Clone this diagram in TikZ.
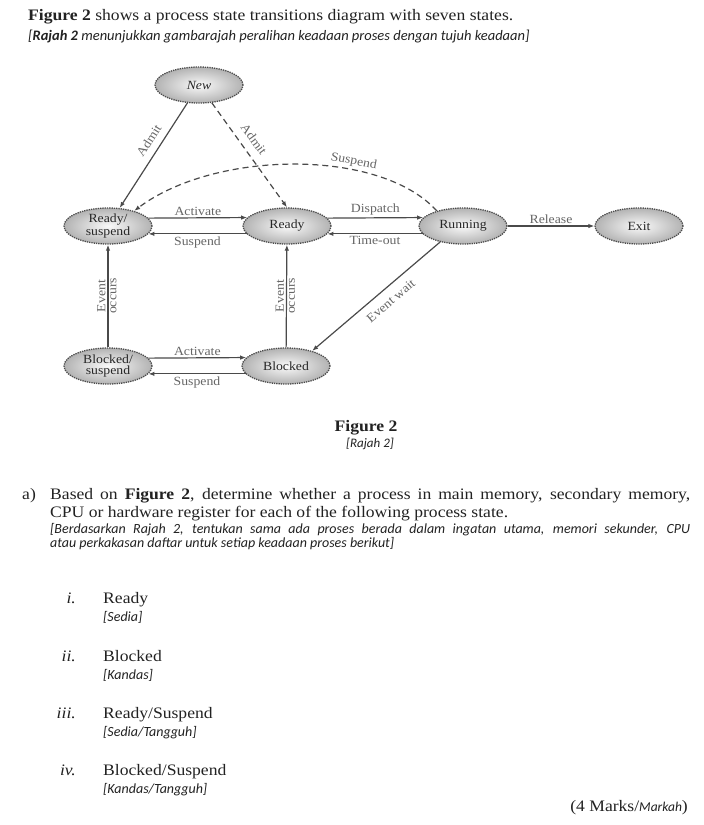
\documentclass[tikz,border=0pt]{standalone}
\usepackage{fontspec}
\setmainfont{Liberation Serif}[FakeStretch=1.1]
\newfontfamily\malayfont{Carlito}
\usetikzlibrary{arrows.meta,shapes.geometric,positioning}

\definecolor{ink}{HTML}{222222}
\definecolor{edge}{HTML}{4A4A4A}
\definecolor{lblgray}{HTML}{666666}

\tikzset{
	state/.style={ellipse, shade, inner color=gray!4, outer color=gray!60, draw=edge,
		densely dotted, line width=1.3pt, minimum width=88pt, minimum height=36pt,
		inner sep=0pt, align=center, text=black!85, font=\fontsize{12.5}{11}\selectfont},
	arr/.style={-{Latex[length=6pt,width=4.5pt]}, draw=edge, line width=1.2pt},
	dashline/.style={dash pattern=on 6pt off 4pt},
	lbl/.style={font=\fontsize{12.5}{14}\selectfont, text=lblgray, inner sep=2pt},
	txt/.style={anchor=base west, inner sep=0pt, text=ink, font=\fontsize{16}{19}\selectfont},
	ml/.style={anchor=base west, inner sep=0pt, text=ink, font=\malayfont\itshape\fontsize{14}{16}\selectfont}
}

\begin{document}
\begin{tikzpicture}[x=1pt,y=-1pt]
	\useasboundingbox (0,0) rectangle (704,825);
	\fill[white] (0,0) rectangle (704,825);

	% heading
	\node[txt] (head) at (28,20) {\textbf{Figure 2} shows a process state transitions diagram with seven states.};
	\node[ml, font=\malayfont\itshape\fontsize{14.5}{16}\selectfont] (headm) at (28,40) {[\textbf{Rajah 2} menunjukkan gambarajah peralihan keadaan proses dengan tujuh keadaan]};

	% states
	\node[state] (new) at (199,85) {\itshape New};
	\node[state] (rsus) at (108,226) {Ready/\\suspend};
	\node[state] (ready) at (287,226) {Ready};
	\node[state] (running) at (463,226) {Running};
	\node[state] (exit) at (639,226) {Exit};
	\node[state] (bsus) at (108,366) {Blocked/\\suspend};
	\node[state] (blocked) at (286,366) {Blocked};

	% admit
	\draw[arr] (new) -- node[lbl, sloped, above=5pt, pos=0.42] {Admit} (rsus);
	\draw[arr, dashline] (new) -- node[lbl, sloped, above=6pt, pos=0.42] {Admit} (ready.north);
	\draw[arr, dashline] (running.150) .. controls (380,148) and (215,150) .. node[lbl, sloped, above, pos=0.33] {Suspend} (rsus.30);

	% top row
	\draw[arr] (rsus.11.5) -- node[lbl, above] {Activate} (ready.168.5);
	\draw[arr] (ready.191.5) -- node[lbl, below] {Suspend} (rsus.-11.5);
	\draw[arr] (ready.11.5) -- node[lbl, above] {Dispatch} (running.168.5);
	\draw[arr] (running.191.5) -- node[lbl, below] {Time-out} (ready.-11.5);
	\draw[arr] (running) -- node[lbl, above] {Release} (exit);

	% events
	\draw[arr] (bsus) -- node[lbl, rotate=90, anchor=south] {Event} node[lbl, rotate=90, anchor=north] {occurs} (rsus);
	\draw[arr] (blocked) -- node[lbl, rotate=90, anchor=south] {Event} node[lbl, rotate=90, anchor=north] {occurs} (ready);
	\draw[arr] (running.215) -- node[lbl, sloped, below=6pt, pos=0.45] {Event wait} (blocked.30);

	% bottom row
	\draw[arr] (bsus.11.5) -- node[lbl, above] {Activate} (blocked.168.5);
	\draw[arr] (blocked.191.5) -- node[lbl, below] {Suspend} (bsus.-11.5);

	% caption
	\node[txt, anchor=base] (cap) at (366,431) {\textbf{Figure 2}};
	\node[ml, anchor=base, font=\malayfont\itshape\fontsize{13}{15}\selectfont] (capm) at (370,447) {[Rajah 2]};

	% question a
	\node[txt] (qa) at (22,499) {a)};
	\node[txt] (qa1) at (50,499) {\makebox[640pt][s]{Based on \textbf{Figure 2}, determine whether a process in main memory, secondary memory,}};
	\node[txt] (qa2) at (50,517) {CPU or hardware register for each of the following process state.};
	\node[ml] (qam1) at (50,533) {\makebox[640pt][s]{[Berdasarkan Rajah 2, tentukan sama ada proses berada dalam ingatan utama, memori sekunder, CPU}};
	\node[ml] (qam2) at (50,547) {atau perkakasan daftar untuk setiap keadaan proses berikut]};

	% items
	\node[txt, anchor=base east] (n1) at (76,603) {\itshape i.};
	\node[txt] (i1) at (103,603) {Ready};
	\node[ml] (m1) at (103,621) {[Sedia]};

	\node[txt, anchor=base east] (n2) at (76,661) {\itshape ii.};
	\node[txt] (i2) at (103,661) {Blocked};
	\node[ml] (m2) at (103,679) {[Kandas]};

	\node[txt, anchor=base east] (n3) at (76,718) {\itshape iii.};
	\node[txt] (i3) at (103,718) {Ready/Suspend};
	\node[ml] (m3) at (103,736) {[Sedia/Tangguh]};

	\node[txt, anchor=base east] (n4) at (76,775) {\itshape iv.};
	\node[txt] (i4) at (103,775) {Blocked/Suspend};
	\node[ml] (m4) at (103,793) {[Kandas/Tangguh]};

	\node[txt, anchor=base east] (marks) at (688,811) {(4 Marks/{\malayfont\itshape\fontsize{13.5}{14}\selectfont Markah})};
\end{tikzpicture}
\end{document}
